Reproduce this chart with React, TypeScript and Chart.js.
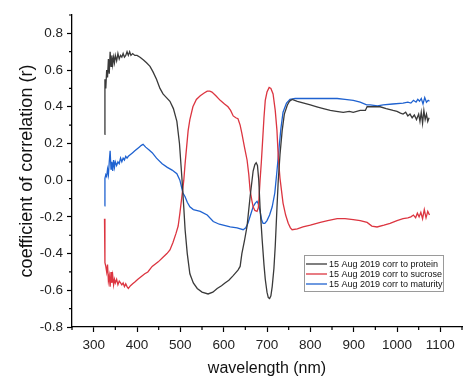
import React, { useEffect, useRef } from "react";
import { Chart, registerables } from "chart.js";

Chart.register(...registerables);

const seriesLabels = [
  "15 Aug 2019 corr to protein",
  "15 Aug 2019 corr to sucrose",
  "15 Aug 2019 corr to maturity",
];
const seriesColors = ["#3a3a3a", "#dc3540", "#1f62d0"];

const xTicks = [300, 400, 500, 600, 700, 800, 900, 1000, 1100];
const xMinor = [250, 350, 450, 550, 650, 750, 850, 950, 1050, 1150];
const yTicks = [-0.8, -0.6, -0.4, -0.2, 0.0, 0.2, 0.4, 0.6, 0.8];
const yMinor = [-0.7, -0.5, -0.3, -0.1, 0.1, 0.3, 0.5, 0.7, 0.9];

const proteinPoints: [number, number][] = [
  [325, 0.25], [326, 0.55], [328, 0.5], [330, 0.6], [332, 0.56], [334, 0.66], [336, 0.58],
  [338, 0.7], [340, 0.62], [342, 0.68], [344, 0.63], [346, 0.67], [348, 0.64], [350, 0.68],
  [353, 0.65], [356, 0.69], [359, 0.66], [362, 0.68], [365, 0.67], [368, 0.69], [371, 0.67],
  [374, 0.68], [377, 0.7], [380, 0.68], [383, 0.7], [386, 0.68], [390, 0.69], [395, 0.68],
  [400, 0.68], [407, 0.67], [415, 0.655], [422, 0.64], [430, 0.62], [437, 0.59], [445, 0.55],
  [453, 0.5], [460, 0.47], [468, 0.45], [476, 0.43], [484, 0.39], [492, 0.32], [498, 0.2],
  [504, 0.0], [508, -0.15], [511, -0.27], [516, -0.4], [522, -0.51], [530, -0.56], [539, -0.59],
  [550, -0.61], [564, -0.62], [575, -0.61], [585, -0.59], [595, -0.575], [603, -0.56],
  [612, -0.545], [622, -0.52], [633, -0.49], [638, -0.47], [642, -0.4], [648, -0.33],
  [654, -0.25], [661, -0.09], [668, 0.05], [672, 0.085], [675, 0.095], [678, 0.08], [681, 0.0],
  [684, -0.15], [689, -0.33], [693, -0.46], [696, -0.54], [700, -0.61], [703, -0.64],
  [706, -0.645], [709, -0.63], [712, -0.58], [716, -0.48], [719, -0.36], [723, -0.15],
  [726, 0.0], [730, 0.14], [735, 0.27], [740, 0.36], [747, 0.41], [752, 0.43], [758, 0.44],
  [770, 0.43], [785, 0.42], [800, 0.41], [815, 0.4], [830, 0.39], [846, 0.38], [860, 0.375],
  [876, 0.37], [890, 0.375], [899, 0.37], [915, 0.38], [927, 0.38], [931, 0.4], [945, 0.4],
  [961, 0.4], [975, 0.39], [991, 0.38], [1000, 0.375], [1008, 0.365], [1014, 0.36],
  [1020, 0.37], [1025, 0.35], [1030, 0.36], [1035, 0.34], [1040, 0.355], [1045, 0.33],
  [1050, 0.36], [1053, 0.32], [1056, 0.37], [1059, 0.31], [1062, 0.38], [1065, 0.33],
  [1068, 0.36], [1071, 0.32], [1074, 0.34],
];

const sucrosePoints: [number, number][] = [
  [325, -0.21], [326, -0.45], [328, -0.47], [330, -0.5], [332, -0.46], [334, -0.55],
  [336, -0.52], [338, -0.58], [340, -0.5], [342, -0.56], [344, -0.52], [346, -0.57],
  [348, -0.54], [350, -0.56], [353, -0.54], [356, -0.57], [359, -0.55], [362, -0.56],
  [365, -0.57], [368, -0.56], [371, -0.58], [374, -0.565], [377, -0.58], [380, -0.59],
  [385, -0.575], [390, -0.565], [395, -0.555], [402, -0.54], [410, -0.525], [418, -0.51],
  [425, -0.5], [435, -0.47], [449, -0.445], [460, -0.42], [469, -0.4], [476, -0.38],
  [483, -0.34], [490, -0.29], [495, -0.25], [499, -0.18], [504, -0.08], [508, 0.0],
  [511, 0.09], [518, 0.27], [522, 0.33], [529, 0.4], [537, 0.44], [546, 0.46], [555, 0.475],
  [562, 0.485], [568, 0.485], [573, 0.48], [582, 0.46], [592, 0.435], [602, 0.415],
  [610, 0.4], [616, 0.38], [622, 0.35], [628, 0.34], [633, 0.335], [638, 0.3], [642, 0.255],
  [648, 0.18], [654, 0.11], [658, 0.03], [661, -0.055], [665, -0.11], [668, -0.145],
  [672, -0.165], [677, -0.17], [680, -0.15], [682, -0.08], [684, 0.0], [687, 0.1],
  [689, 0.18], [693, 0.34], [696, 0.435], [700, 0.48], [705, 0.505], [709, 0.5], [714, 0.47],
  [719, 0.38], [723, 0.27], [726, 0.125], [730, 0.01], [737, -0.125], [743, -0.19],
  [749, -0.235], [754, -0.26], [758, -0.27], [770, -0.265], [783, -0.255], [800, -0.245],
  [823, -0.23], [840, -0.22], [862, -0.21], [880, -0.21], [899, -0.215], [915, -0.22],
  [931, -0.23], [942, -0.25], [954, -0.255], [970, -0.245], [984, -0.235], [1000, -0.22],
  [1014, -0.21], [1025, -0.205], [1032, -0.2], [1038, -0.19], [1043, -0.205], [1047, -0.18],
  [1051, -0.2], [1055, -0.175], [1059, -0.21], [1063, -0.16], [1067, -0.205], [1071, -0.17],
  [1075, -0.19],
];

const maturityPoints: [number, number][] = [
  [325, -0.14], [326, 0.01], [328, 0.03], [330, 0.02], [332, 0.06], [334, 0.03], [336, 0.1],
  [338, 0.16], [340, 0.06], [342, 0.1], [344, 0.05], [346, 0.11], [348, 0.07], [350, 0.1],
  [353, 0.08], [356, 0.1], [359, 0.09], [362, 0.12], [365, 0.1], [368, 0.12], [371, 0.11],
  [374, 0.13], [377, 0.12], [380, 0.13], [385, 0.14], [390, 0.15], [395, 0.16], [400, 0.17],
  [405, 0.18], [410, 0.19], [414, 0.195], [420, 0.18], [428, 0.165], [435, 0.15], [445, 0.12],
  [458, 0.09], [470, 0.07], [481, 0.055], [492, 0.035], [499, 0.0], [506, -0.07],
  [511, -0.09], [516, -0.12], [522, -0.145], [530, -0.16], [546, -0.17], [562, -0.19],
  [576, -0.225], [590, -0.24], [599, -0.245], [615, -0.255], [631, -0.26], [645, -0.27],
  [651, -0.26], [656, -0.235], [662, -0.19], [668, -0.145], [673, -0.125], [677, -0.115],
  [680, -0.13], [684, -0.17], [688, -0.22], [691, -0.235], [695, -0.235], [700, -0.22],
  [706, -0.19], [712, -0.145], [718, -0.07], [723, 0.05], [728, 0.18], [732, 0.28],
  [737, 0.37], [745, 0.42], [753, 0.44], [765, 0.445], [783, 0.445], [820, 0.445],
  [862, 0.445], [880, 0.44], [899, 0.435], [915, 0.425], [930, 0.41], [938, 0.41],
  [955, 0.405], [968, 0.41], [990, 0.415], [1014, 0.42], [1025, 0.425], [1032, 0.42],
  [1038, 0.435], [1044, 0.425], [1048, 0.44], [1052, 0.43], [1056, 0.445], [1060, 0.415],
  [1064, 0.45], [1068, 0.425], [1072, 0.435], [1075, 0.43],
];

const FONT = "'Liberation Sans', Arial, sans-serif";

const extrasPlugin = {
  id: "extras",
  afterDraw(chart: any) {
    const ctx = chart.ctx;
    const xs = chart.scales.x;
    const ys = chart.scales.y;
    const area = chart.chartArea;
    ctx.save();
    ctx.strokeStyle = "#000";
    ctx.lineWidth = 1.2;
    ctx.beginPath();
    xMinor.forEach((v) => {
      const px = xs.getPixelForValue(v);
      ctx.moveTo(px, area.bottom);
      ctx.lineTo(px, area.bottom + 3);
    });
    yMinor.forEach((v) => {
      const py = ys.getPixelForValue(v);
      ctx.moveTo(area.left, py);
      ctx.lineTo(area.left - 3, py);
    });
    ctx.stroke();

    // legend box
    const bx = 304, by = 255, bw = 139, bh = 36;
    ctx.fillStyle = "#fff";
    ctx.fillRect(bx, by, bw, bh);
    ctx.strokeStyle = "#9a9a9a";
    ctx.lineWidth = 1;
    ctx.strokeRect(bx + 0.5, by + 0.5, bw, bh);
    ctx.font = `9px ${FONT}`;
    ctx.textBaseline = "middle";
    ctx.textAlign = "left";
    seriesLabels.forEach((lab, i) => {
      const yy = by + 9 + i * 10;
      ctx.strokeStyle = seriesColors[i];
      ctx.lineWidth = 1.3;
      ctx.beginPath();
      ctx.moveTo(bx + 2, yy);
      ctx.lineTo(bx + 23, yy);
      ctx.stroke();
      ctx.fillStyle = "#111";
      ctx.fillText(lab, bx + 25, yy + 0.5);
    });
    ctx.restore();
  },
};

export default function App() {
  const ref = useRef<HTMLCanvasElement | null>(null);
  useEffect(() => {
    if (!ref.current) return;
    const pts = [proteinPoints, sucrosePoints, maturityPoints];
    const chart = new Chart(ref.current, {
      type: "line",
      data: {
        datasets: pts.map((p, i) => ({
          label: seriesLabels[i],
          data: p.map(([x, y]) => ({ x, y })),
          borderColor: seriesColors[i],
          borderWidth: 1.3,
          pointRadius: 0,
          tension: 0,
          fill: false,
        })),
      },
      options: {
        animation: false,
        responsive: false,
        layout: { padding: { top: 15, right: 12, left: 0, bottom: 0 } },
        plugins: { legend: { display: false }, tooltip: { enabled: false } },
        scales: {
          x: {
            type: "linear",
            min: 250,
            max: 1150,
            afterFit: (s: any) => {
              s.height = 51;
            },
            afterBuildTicks: (s: any) => {
              s.ticks = xTicks.map((v) => ({ value: v }));
            },
            grid: {
              drawOnChartArea: false,
              drawTicks: true,
              tickLength: 5,
              tickColor: "#000",
              tickWidth: 1.2,
            },
            border: { display: true, color: "#000", width: 1.3 },
            ticks: {
              color: "#222",
              font: { family: FONT, size: 13.5 },
              padding: 5,
              maxRotation: 0,
              autoSkip: false,
              callback: (v: any) => String(v),
            },
            title: {
              display: true,
              text: "wavelength (nm)",
              color: "#111",
              font: { family: FONT, size: 16 },
              padding: { top: 0, bottom: 0 },
            },
          },
          y: {
            type: "linear",
            min: -0.8,
            max: 0.9,
            afterFit: (s: any) => {
              s.width = 72;
            },
            afterBuildTicks: (s: any) => {
              s.ticks = yTicks.map((v) => ({ value: v }));
            },
            grid: {
              drawOnChartArea: false,
              drawTicks: true,
              tickLength: 5,
              tickColor: "#000",
              tickWidth: 1.2,
            },
            border: { display: true, color: "#000", width: 1.3 },
            ticks: {
              color: "#222",
              font: { family: FONT, size: 13.5 },
              padding: 4,
              autoSkip: false,
              callback: (v: any) => Number(v).toFixed(1),
            },
            title: {
              display: true,
              text: "coefficient of correlation (r)",
              color: "#111",
              font: { family: FONT, size: 18 },
              padding: { top: 16, bottom: 0 },
            },
          },
        },
      },
      plugins: [extrasPlugin],
    });
    return () => chart.destroy();
  }, []);
  return (
    <div style={{ position: "fixed", left: 0, top: 0, width: 474, height: 378, background: "#fff" }}>
      <canvas ref={ref} width={474} height={378} style={{ width: 474, height: 378 }} />
    </div>
  );
}
